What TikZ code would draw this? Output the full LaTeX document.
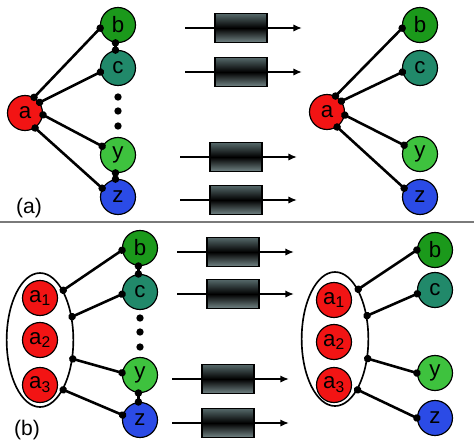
\documentclass[tikz,border=0pt]{standalone}
\usepackage{fontspec}
\setmainfont{Liberation Sans}
\usetikzlibrary{arrows.meta,shapes.geometric}
\definecolor{nred}{HTML}{F21414}
\definecolor{ngreen}{HTML}{1B991B}
\definecolor{nteal}{HTML}{21896A}
\definecolor{nlime}{HTML}{3EC23E}
\definecolor{nblue}{HTML}{2B4BE6}
\definecolor{slatetop}{HTML}{56696A}
\definecolor{slatebot}{HTML}{738586}
\definecolor{rule}{HTML}{7A7A7A}
\tikzset{
  vert/.style={circle,draw=black,line width=1pt,fill=#1,minimum size=1.05cm,inner sep=0pt,font=\fontsize{19}{21}\selectfont},
  grp/.style={ellipse,draw=black,line width=1.4pt,minimum width=2cm,minimum height=4.02cm,inner sep=0pt},
  link/.style={{Circle[length=2.2mm,width=2.2mm]}-{Circle[length=2.2mm,width=2.2mm]},line width=2.2pt,shorten <=-1.1mm,shorten >=-1.1mm},
  slab/.style={draw=black,line width=0.9pt,minimum width=1.56cm,minimum height=0.87cm,inner sep=0pt,top color=slatetop,bottom color=slatebot,middle color=black},
  arrow/.style={-{Latex[length=2.6mm,width=2.2mm]},line width=1.8pt},
  tag/.style={font=\fontsize{18}{21}\selectfont},
  vdot/.style={circle,fill=black,minimum size=2.2mm,inner sep=0pt},
}

\begin{document}
\begin{tikzpicture}[x=0.03cm,y=-0.03cm]
  \useasboundingbox (0,0) rectangle (474,445);
  % (a) left graph
  \node[vert=nred] (ta) at (25,113) {a};
  \node[vert=ngreen] (tb) at (118,25) {b};
  \node[vert=nteal] (tc) at (118,68) {c};
  \node[vert=nlime] (ty) at (118,155) {y};
  \node[vert=nblue] (tz) at (118,197) {z};
  \foreach \k in {97,111,126}
    \node[vdot] (td\k) at (118,\k) {};
  \draw[link] (ta.60) -- (tb.190);
  \draw[link] (ta.36) -- (tc.193);
  \draw[link] (ta.354) -- (ty.151);
  \draw[link] (ta.304) -- (tz.151);
  \draw[link] (tb.262) -- (tc.98);
  \draw[link] (ty.262) -- (tz.98);
  \node[tag] (capa) at (29,208) {(a)};
  % (a) right graph
  \node[vert=nred] (ua) at (327,112) {a};
  \node[vert=ngreen] (ub) at (420,25) {b};
  \node[vert=nteal] (uc) at (420,68) {c};
  \node[vert=nlime] (uy) at (420,154) {y};
  \node[vert=nblue] (uz) at (420,197) {z};
  \draw[link] (ua.62) -- (ub.190);
  \draw[link] (ua.37) -- (uc.193);
  \draw[link] (ua.350) -- (uy.151);
  \draw[link] (ua.304) -- (uz.151);
  % transfer boxes
  \foreach \n/\x/\y in {1/241/28, 2/241/72, 3/236/157, 4/236/200, 5/233/252, 6/233/294, 7/228/379, 8/228/423} {
    \coordinate (s\n) at (\x-56,\y);
    \coordinate (e\n) at (\x+61,\y);
    \node[slab] (k\n) at (\x,\y) {};
    \draw[line width=1.8pt] (s\n) -- (k\n);
    \draw[arrow] (k\n) -- (e\n);
  }
  % separator
  \coordinate (rl) at (0,222);
  \coordinate (rr) at (474,222);
  \draw[rule,line width=1.2pt] (rl) -- (rr);
  % (b) left graph
  \node[grp] (bg) at (40,340) {};
  \node[vert=nred] (ba1) at (40,298) {a\textsubscript{1}};
  \node[vert=nred] (ba2) at (40,340) {a\textsubscript{2}};
  \node[vert=nred] (ba3) at (40,385) {a\textsubscript{3}};
  \node[vert=ngreen] (bb) at (140,248) {b};
  \node[vert=nteal] (bc) at (140,292) {c};
  \node[vert=nlime] (by) at (140,375) {y};
  \node[vert=nblue] (bz) at (140,420) {z};
  \foreach \k in {318,332,347}
    \node[vdot] (bd\k) at (140,\k) {};
  \draw[link] (bg.65) -- (bb.187);
  \draw[link] (bg.36) -- (bc.187);
  \draw[link] (bg.330) -- (by.173);
  \draw[link] (bg.295) -- (bz.164);
  \draw[link] (bb.265) -- (bc.95);
  \draw[link] (by.265) -- (bz.95);
  \node[tag] (capb) at (27,430) {(b)};
  % (b) right graph
  \node[grp] (cg) at (335,339) {};
  \node[vert=nred] (ca1) at (334,300) {a\textsubscript{1}};
  \node[vert=nred] (ca2) at (334,342) {a\textsubscript{2}};
  \node[vert=nred] (ca3) at (334,385) {a\textsubscript{3}};
  \node[vert=ngreen] (cb) at (435,250) {b};
  \node[vert=nteal] (cc) at (435,290) {c};
  \node[vert=nlime] (cy) at (435,373) {y};
  \node[vert=nblue] (cz) at (435,418) {z};
  \draw[link] (cg.65) -- (cb.180);
  \draw[link] (cg.36) -- (cc.192);
  \draw[link] (cg.329) -- (cy.180);
  \draw[link] (cg.294) -- (cz.180);
\end{tikzpicture}
\end{document}
